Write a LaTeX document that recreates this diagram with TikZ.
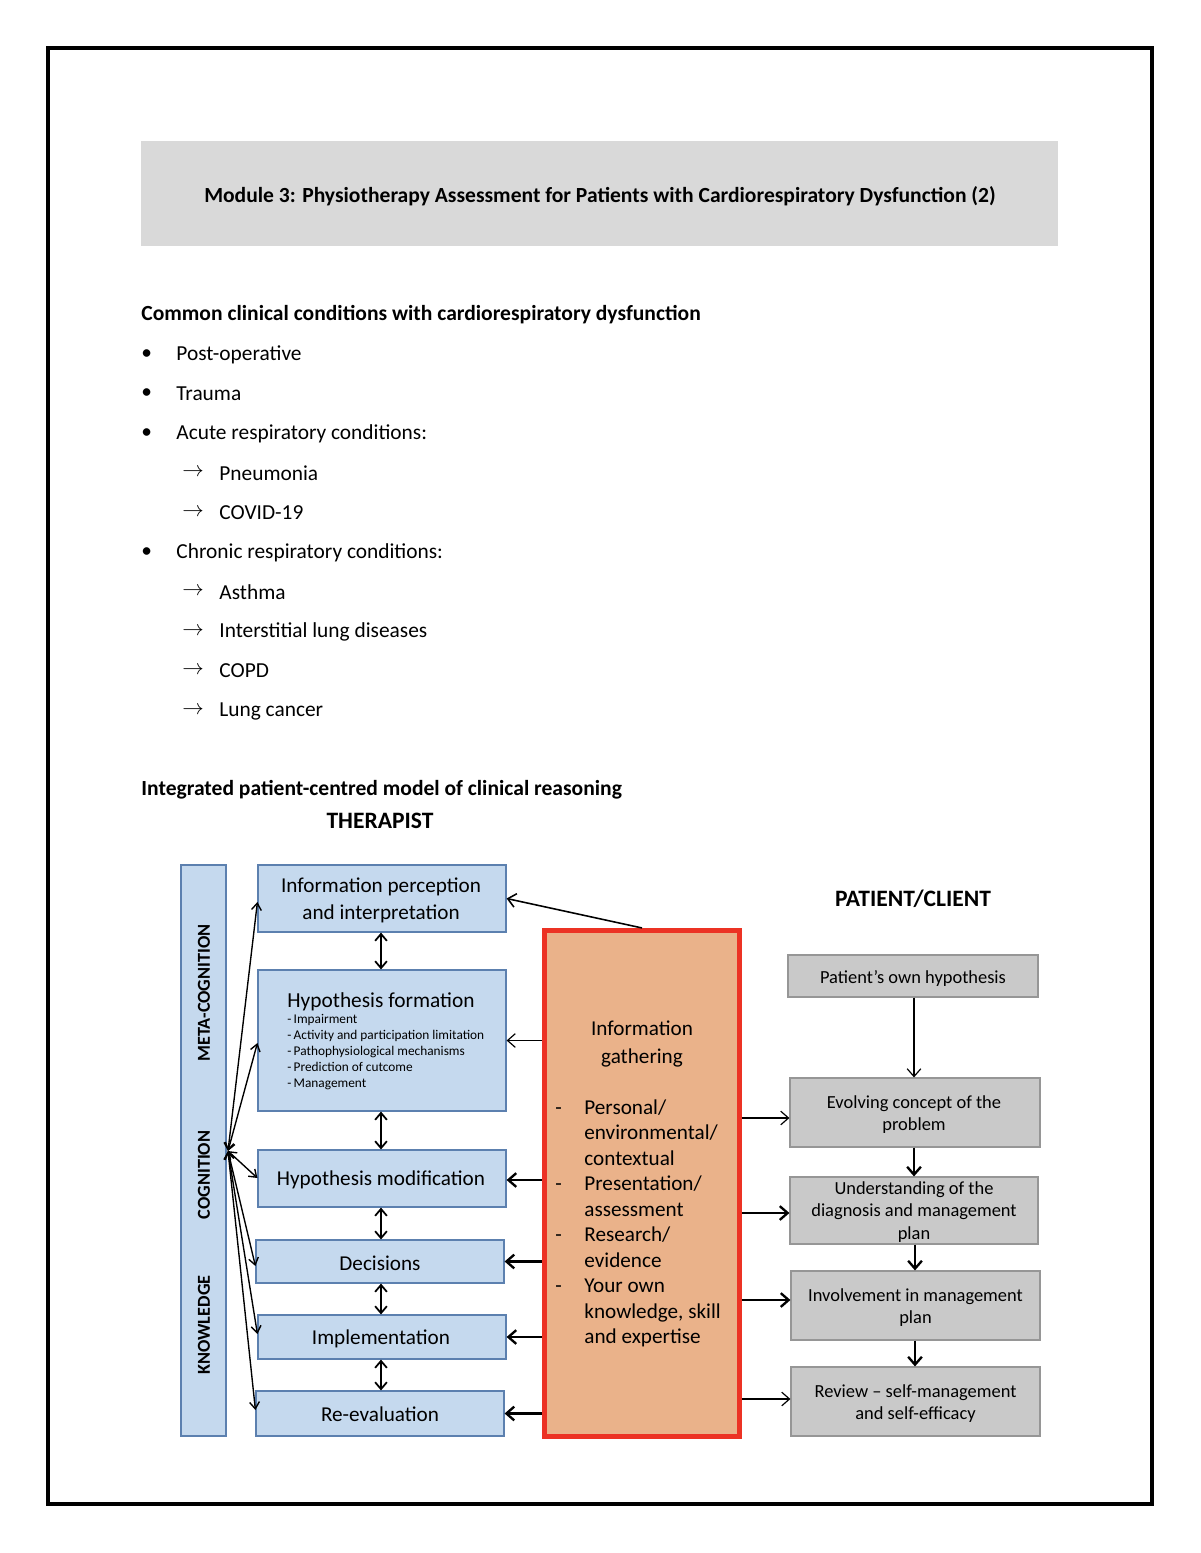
\documentclass[tikz,border=0pt]{standalone}
\usepackage{fontspec}
\setmainfont{Carlito}
\usetikzlibrary{arrows.meta,calc}
\definecolor{bluefill}{RGB}{197,217,238}
\definecolor{blueedge}{RGB}{92,128,175}
\definecolor{orangefill}{RGB}{234,178,138}
\definecolor{redge}{RGB}{236,50,36}
\definecolor{grayfill}{RGB}{201,201,201}
\definecolor{grayedge}{RGB}{150,150,150}
\definecolor{headgray}{RGB}{217,217,217}
\newcommand{\dashitem}{\llap{-\hspace{11.5pt}}}
\tikzset{
  wh/.style 2 args={minimum width=#1*0.51pt, minimum height=#2*0.51pt},
  bluebox/.style={draw=blueedge, fill=bluefill, line width=0.6pt, inner sep=0pt, align=center, font=\fontsize{10.8}{13.6}\selectfont},
  graybox/.style={draw=grayedge, fill=grayfill, line width=0.6pt, inner sep=0pt, align=center, font=\fontsize{9.4}{11.3}\selectfont},
  bodytext/.style={anchor=west, inner sep=0pt, font=\fontsize{10.9}{13}\selectfont},
  headtext/.style={anchor=west, inner sep=0pt, font=\fontsize{11}{13}\selectfont\bfseries},
  vlabel/.style={rotate=90, inner sep=0pt, font=\fontsize{9.3}{10}\selectfont\bfseries},
  arr/.style={-{Straight Barb[length=4pt,width=7pt]}, line width=0.6pt},
  arrthick/.style={-{Straight Barb[length=4pt,width=7pt]}, line width=1.2pt},
  darr/.style={{Straight Barb[length=3.5pt,width=6pt]}-{Straight Barb[length=3.5pt,width=6pt]}, line width=0.9pt},
  fan/.style={{Straight Barb[length=3.5pt,width=5pt]}-{Straight Barb[length=3.5pt,width=5pt]}, line width=0.7pt},
}
\begin{document}
\begin{tikzpicture}[x=0.51pt, y=-0.51pt]
\useasboundingbox (0,0) rectangle (1200,1553);
% page frame
\node[draw=black, line width=2.2pt, inner sep=0pt, wh={1104}{1456}] (frame) at (600,776) {};
% header
\node[fill=headgray, inner sep=0pt, wh={917}{105}] (header) at (599.5,193.5) {};
\node[inner sep=0pt, font=\fontsize{11}{13}\selectfont\bfseries] (title) at (600,196) {Module 3: Physiotherapy Assessment for Patients with Cardiorespiratory Dysfunction (2)};
% list
\node[headtext] (h1) at (141,315) {Common clinical conditions with cardiorespiratory dysfunction};
\node[bodytext] (b1) at (141,355) {\textbullet};
\node[bodytext] (t1) at (176,355) {Post-operative};
\node[bodytext] (b2) at (141,394) {\textbullet};
\node[bodytext] (t2) at (176,394) {Trauma};
\node[bodytext] (b3) at (141,434) {\textbullet};
\node[bodytext] (t3) at (176,434) {Acute respiratory conditions:};
\node[bodytext] (a1) at (182,473) {$\rightarrow$};
\node[bodytext] (t4) at (219,473) {Pneumonia};
\node[bodytext] (a2) at (182,513) {$\rightarrow$};
\node[bodytext] (t5) at (219,513) {COVID-19};
\node[bodytext] (b4) at (141,553) {\textbullet};
\node[bodytext] (t6) at (176,553) {Chronic respiratory conditions:};
\node[bodytext] (a3) at (182,592) {$\rightarrow$};
\node[bodytext] (t7) at (219,592) {Asthma};
\node[bodytext] (a4) at (182,632) {$\rightarrow$};
\node[bodytext] (t8) at (219,632) {Interstitial lung diseases};
\node[bodytext] (a5) at (182,671) {$\rightarrow$};
\node[bodytext] (t9) at (219,671) {COPD};
\node[bodytext] (a6) at (182,711) {$\rightarrow$};
\node[bodytext] (t10) at (219,711) {Lung cancer};
\node[headtext] (h2) at (141,790) {Integrated patient-centred model of clinical reasoning};
\node[inner sep=0pt, font=\fontsize{12}{14}\selectfont\bfseries] (ther) at (380,821) {THERAPIST};
\node[inner sep=0pt, font=\fontsize{12}{14}\selectfont\bfseries] (pat) at (913,899) {PATIENT/CLIENT};
% left bar
\node[bluebox, wh={45}{571}] (bar) at (203.5,1150.5) {};
\node[vlabel] (meta) at (204,993) {META-COGNITION};
\node[vlabel] (cog) at (204,1175) {COGNITION};
\node[vlabel] (know) at (204,1325) {KNOWLEDGE};
% therapist boxes
\node[bluebox, wh={248}{67}] (ip) at (382,898.5) {};
\node[inner sep=0pt, align=center, font=\fontsize{10.8}{13.6}\selectfont] (ipt) at (381,900.5) {Information perception\\and interpretation};
\node[bluebox, wh={248}{141}] (hf) at (382,1040.5) {};
\node[inner sep=0pt, font=\fontsize{10.9}{13}\selectfont] (hft) at (381,1002) {Hypothesis formation};
\node[anchor=north west, inner sep=0pt, align=left, font=\fontsize{6.8}{8.2}\selectfont] (hfl) at (287,1014) {-\,Impairment\\-\,Activity and participation limitation\\-\,Pathophysiological mechanisms\\-\,Prediction of cutcome\\-\,Management};
\node[bluebox, wh={248}{57}] (hm) at (382,1178.5) {};
\node[inner sep=0pt, font=\fontsize{10.8}{13}\selectfont] (hmt) at (381,1180) {Hypothesis modification};
\node[bluebox, wh={248}{43}] (de) at (380,1261.5) {};
\node[inner sep=0pt, font=\fontsize{10.8}{13}\selectfont] (det) at (380,1263) {Decisions};
\node[bluebox, wh={248}{44}] (im) at (382,1337) {};
\node[inner sep=0pt, font=\fontsize{10.8}{13}\selectfont] (imt) at (381,1339) {Implementation};
\node[bluebox, wh={248}{45}] (re) at (380,1413.5) {};
\node[inner sep=0pt, font=\fontsize{10.8}{13}\selectfont] (ret) at (380,1414) {Re-evaluation};
% information gathering
\node[draw=redge, fill=orangefill, line width=2.6pt, inner sep=0pt, wh={195}{506}] (ig) at (642,1183.5) {};
\node[inner sep=0pt, align=center, font=\fontsize{10.8}{13.8}\selectfont] (igt) at (642,1044) {Information\\gathering};
\node[anchor=north west, inner sep=0pt, align=left, font=\fontsize{10.8}{13}\selectfont] (igl) at (584,1099) {\dashitem Personal/\\environmental/\\contextual\\\dashitem Presentation/\\assessment\\\dashitem Research/\\evidence\\\dashitem Your own\\knowledge, skill\\and expertise};
% patient boxes
\node[graybox, wh={250}{42}] (g1) at (913,976) {};
\node[inner sep=0pt, font=\fontsize{9.4}{11.3}\selectfont] (g1t) at (913,978) {Patient's own hypothesis};
\node[graybox, wh={250}{69}] (g2) at (915,1112.5) {};
\node[inner sep=0pt, align=center, font=\fontsize{9.4}{11.3}\selectfont] (g2t) at (914,1114.5) {Evolving concept of the\\problem};
\node[graybox, wh={248}{67}] (g3) at (914,1210.5) {};
\node[inner sep=0pt, align=center, font=\fontsize{9.4}{11.3}\selectfont] (g3t) at (914,1212) {Understanding of the\\diagnosis and management\\plan};
\node[graybox, wh={249}{69}] (g4) at (915.5,1305.5) {};
\node[inner sep=0pt, align=center, font=\fontsize{9.4}{11.3}\selectfont] (g4t) at (915.5,1307.5) {Involvement in management\\plan};
\node[graybox, wh={249}{69}] (g5) at (915.5,1401.5) {};
\node[inner sep=0pt, align=center, font=\fontsize{9.4}{11.3}\selectfont] (g5t) at (915.5,1403.5) {Review -- self-management\\and self-efficacy};
% vertical arrows therapist
\draw[darr] (ip.south -| 381,0) -- (hf.north -| 381,0);
\draw[darr] (hf.south -| 381,0) -- (hm.north -| 381,0);
\draw[darr] (hm.south -| 381,0) -- (de.north -| 381,0);
\draw[darr] (de.south -| 381,0) -- (im.north -| 381,0);
\draw[darr] (im.south -| 381,0) -- (re.north -| 381,0);
% patient vertical arrows
\draw[arr] (g1.south -| 914,0) -- (g2.north -| 914,0);
\draw[arrthick] (g2.south -| 914,0) -- (g3.north -| 914,0);
\draw[arrthick] (g3.south -| 915,0) -- (g4.north -| 915,0);
\draw[arrthick] (g4.south -| 915,0) -- (g5.north -| 915,0);
% information gathering arrows
\draw[arr, line width=0.8pt] (ig.north) -- (ip.east);
\draw[arr] (ig.west |- hf.east) -- (hf.east);
\draw[arrthick] (ig.west |- 0,1180) -- (hm.east |- 0,1180);
\draw[arrthick] (ig.west |- de.east) -- (de.east);
\draw[arrthick] (ig.west |- im.east) -- (im.east);
\draw[arrthick] (ig.west |- re.east) -- (re.east);
\draw[arr] (ig.east |- 0,1118) -- (g2.west |- 0,1118);
\draw[arrthick] (ig.east |- 0,1213) -- (g3.west |- 0,1213);
\draw[arrthick] (ig.east |- 0,1300) -- (g4.west |- 0,1300);
\draw[arr] (ig.east |- 0,1399) -- (g5.west |- 0,1399);
% fan from knowledge bar
\coordinate (hub) at (228,1151);
\draw[fan] (hub) -- (ip.west |- 0,902);
\draw[fan] (hub) -- (hf.west |- 0,1043);
\draw[fan] (hub) -- (hm.west |- 0,1178);
\draw[fan] (hub) -- (de.west |- 0,1266);
\draw[fan] (hub) -- (im.west |- 0,1334);
\draw[fan] (hub) -- (re.west |- 0,1410);
\end{tikzpicture}
\end{document}
